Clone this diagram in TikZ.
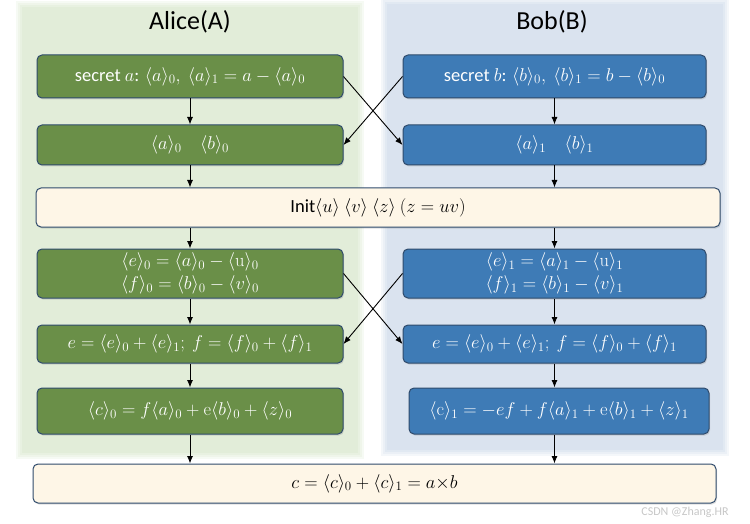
\RequirePackage{fix-cm}
\documentclass[tikz,border=0pt]{standalone}
\usepackage[no-math]{fontspec}
\setmainfont{Carlito}
\usetikzlibrary{positioning, calc, arrows.meta, shadows}

\definecolor{alicebg}{HTML}{E2EDD9}
\definecolor{bobbg}{HTML}{DAE3EF}
\definecolor{alicebox}{HTML}{6A8F48}
\definecolor{bobbox}{HTML}{3E7BB6}
\definecolor{sharedbox}{HTML}{FEF6E7}
\definecolor{boxedge}{HTML}{2F4B6C}

\begin{document}
\begin{tikzpicture}[
  x=1pt, y=-1pt,
  >={Latex[length=7.5pt, width=6pt]}, line width=0.9pt,
  box/.style    = {draw=boxedge, line width=1pt, rounded corners=5pt, align=center,
                   inner sep=2pt, font=\fontsize{18.5}{22.5}\selectfont,
                   drop shadow={shadow xshift=1pt, shadow yshift=-1.5pt, opacity=0.25}},
  alice/.style  = {box, fill=alicebox, text=white, minimum width=306pt},
  bob/.style    = {box, fill=bobbox, text=white, minimum width=303pt},
  shared/.style = {box, fill=sharedbox, text=black, minimum width=684pt, minimum height=39pt},
  title/.style  = {font=\fontsize{26}{30}\selectfont},
]
  \useasboundingbox (0,0) rectangle (750,524);

  % ---- background panels, soft edges ----
  \foreach \g/\t in {6/30, 4/55, 2/80, 0/100} {
    \fill[alicebg!\t] (22-\g,7-\g) rectangle (358+\g,453+\g);
    \fill[bobbg!\t]   (387-\g,4-\g) rectangle (723+\g,450+\g);
  }

  \node[title] (alicetitle) at (190,22) {Alice(A)};
  \node[title] (bobtitle)   at (552,22) {Bob(B)};

  % ---- Alice column ----
  \node[alice, minimum height=43pt]      (a1) at (190,76.5)
    {secret $a$: $\langle a\rangle_0,\ \langle a\rangle_1 = a - \langle a\rangle_0$};
  \node[alice, minimum height=40pt, below=26pt of a1] (a2)
    {$\langle a\rangle_0 \quad \langle b\rangle_0$};

  % ---- Bob column, level with Alice ----
  \node[bob, minimum height=43pt, right=59pt of a1] (b1)
    {secret $b$: $\langle b\rangle_0,\ \langle b\rangle_1 = b - \langle b\rangle_0$};
  \node[bob, minimum height=40pt, right=59pt of a2] (b2)
    {$\langle a\rangle_1 \quad \langle b\rangle_1$};

  % ---- shared initialisation ----
  \node[shared] (init) at (378,207.5)
    {Init$\langle u\rangle\ \langle v\rangle\ \langle z\rangle\ (z = uv)$};

  \node[alice, minimum height=49pt, inner sep=0pt] (a4) at (190,273.5)
    {$\langle e\rangle_0 = \langle a\rangle_0 - \langle \mathrm{u}\rangle_0$\\
     $\langle f\rangle_0 = \langle b\rangle_0 - \langle v\rangle_0$};
  \node[alice, minimum height=38pt, below=26pt of a4] (a5)
    {$e = \langle e\rangle_0 + \langle e\rangle_1;\ f = \langle f\rangle_0 + \langle f\rangle_1$};
  \node[alice, minimum height=46pt] (a6) at (190,411)
    {$\langle c\rangle_0 = f\langle a\rangle_0 + \mathrm{e}\langle b\rangle_0 + \langle z\rangle_0$};

  \node[bob, minimum height=49pt, inner sep=0pt, right=59pt of a4] (b4)
    {$\langle e\rangle_1 = \langle a\rangle_1 - \langle \mathrm{u}\rangle_1$\\
     $\langle f\rangle_1 = \langle b\rangle_1 - \langle v\rangle_1$};
  \node[bob, minimum height=38pt, right=59pt of a5] (b5)
    {$e = \langle e\rangle_0 + \langle e\rangle_1;\ f = \langle f\rangle_0 + \langle f\rangle_1$};
  \node[bob, minimum height=46pt, minimum width=300pt, right=65pt of a6] (b6)
    {$\langle \mathrm{c}\rangle_1 = -ef + f\langle a\rangle_1 + \mathrm{e}\langle b\rangle_1 + \langle z\rangle_1$};

  % ---- result ----
  \node[shared, minimum width=683pt] (final) at (374.5,483.5)
    {$c = \langle c\rangle_0 + \langle c\rangle_1 = a{\times}b$};

  \node[text=black!22, font=\fontsize{12}{14}\selectfont] (watermark) at (685,512) {CSDN @Zhang.HR};

  % ---- arrows ----
  \draw[->] (a1) -- (a2);
  \draw[->] (b1) -- (b2);
  \draw[->] (a1.east) -- (b2.west);
  \draw[->] (b1.west) -- (a2.east);

  \draw[->] (a2.south) -- (a2.south |- init.north);
  \draw[->] (b2.south) -- (b2.south |- init.north);
  \draw[->] (a4.north |- init.south) -- (a4.north);
  \draw[->] (b4.north |- init.south) -- (b4.north);

  \draw[->] (a4) -- (a5);
  \draw[->] (b4) -- (b5);
  \draw[->] (a4.east) -- (b5.west);
  \draw[->] (b4.west) -- (a5.east);

  \draw[->] (a5) -- (a6);
  \draw[->] (b5.south) -- (b5.south |- b6.north);
  \draw[->] (a6.south) -- (a6.south |- final.north);
  \draw[->] (b5.south |- b6.south) -- (b5.south |- final.north);
\end{tikzpicture}
\end{document}
